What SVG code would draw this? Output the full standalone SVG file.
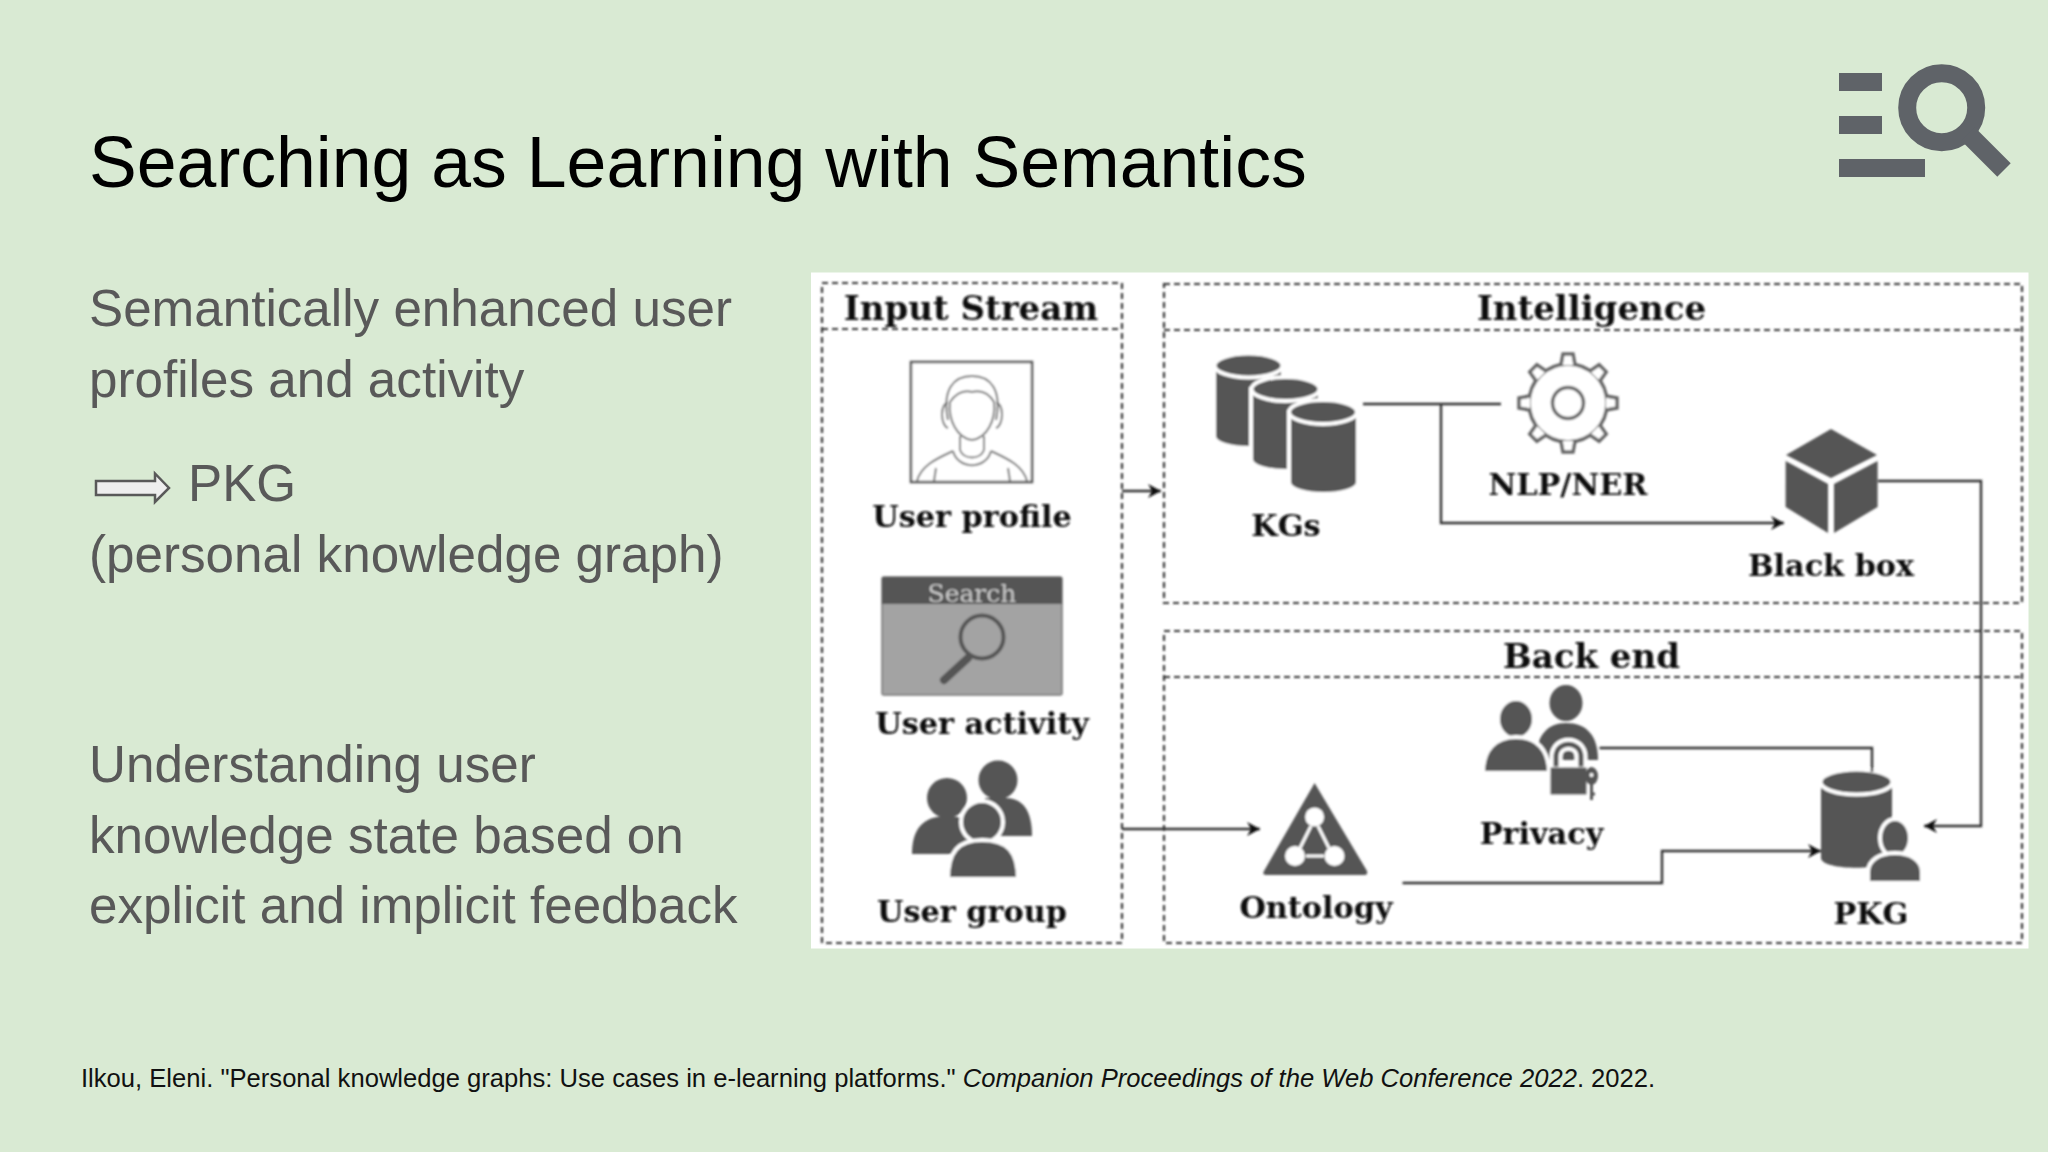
<svg xmlns="http://www.w3.org/2000/svg" width="2048" height="1152" viewBox="0 0 2048 1152">
<style>
.sans{font-family:"Liberation Sans",Arial,sans-serif}
.body{font-size:51.200px;fill:#595959}
.lbl{font-family:"DejaVu Serif",serif;font-weight:700;font-size:30.300px;fill:#111;text-anchor:middle}
.hd{font-size:34px}
.box{fill:none;stroke:#333;stroke-width:2.200;stroke-dasharray:6 4}
.ic{fill:#555}
.hal{stroke:#fff;stroke-width:4}
.cn{fill:none;stroke:#333;stroke-width:2.400}
.pf{fill:none;stroke:#777;stroke-width:2}
</style>
<defs>
<filter id="soft" x="-2%" y="-2%" width="104%" height="104%"><feGaussianBlur stdDeviation="0.8"/></filter>
<marker id="ah" markerUnits="userSpaceOnUse" markerWidth="16" markerHeight="16" refX="14" refY="8" orient="auto"><path d="M1,1 L14,8 L1,15 L5,8Z" fill="#111"/></marker>
<path id="tooth" d="M-7,-38 L-5,-49 L5,-49 L7,-38" fill="#fff" stroke="#666" stroke-width="3.500"/>
</defs>
<rect width="2048" height="1152" fill="#d9ead3"/>
<g id="logo" fill="#5f6368">
<rect x="1839" y="73" width="43" height="18"/>
<rect x="1839" y="116" width="43" height="18"/>
<rect x="1839" y="159" width="86" height="18"/>
<circle cx="1941.700" cy="107.700" r="34.500" fill="none" stroke="#5f6368" stroke-width="18"/>
<path d="M1968,134 L2004,170" stroke="#5f6368" stroke-width="19" fill="none"/>
</g>
<text id="title" class="sans" x="89" y="187" font-size="71.600" fill="#000">Searching as Learning with Semantics</text>
<g id="bullets" class="sans body">
<text x="89" y="326">Semantically enhanced user</text>
<text x="89" y="397">profiles and activity</text>
<text x="188" y="501">PKG</text>
<text x="89" y="572">(personal knowledge graph)</text>
<text x="89" y="782">Understanding user</text>
<text x="89" y="853">knowledge state based on</text>
<text x="89" y="923">explicit and implicit feedback</text>
</g>
<path id="text-arrow" d="M96,481 H155 V473.500 L169,488 L155,502 V495 H96Z" fill="#eeeeee" stroke="#595959" stroke-width="2.500"/>
<text id="citation" class="sans" x="81" y="1087" font-size="25.600" fill="#111">Ilkou, Eleni. "Personal knowledge graphs: Use cases in e-learning platforms." <tspan font-style="italic">Companion Proceedings of the Web Conference 2022</tspan>. 2022.</text>

<rect x="811" y="272.500" width="1217.500" height="676" fill="#fff"/>
<g filter="url(#soft)">
<g id="input-stream">
<rect class="box" x="822" y="283" width="300" height="660"/>
<path class="box" d="M822,329 H1122"/>
<text class="lbl hd" x="971" y="320">Input Stream</text>
</g>
<g id="intelligence">
<rect class="box" x="1164" y="284" width="858" height="319"/>
<path class="box" d="M1164,330 H2022"/>
<text class="lbl hd" x="1591.500" y="320">Intelligence</text>
</g>
<g id="back-end">
<rect class="box" x="1164" y="631" width="858" height="312"/>
<path class="box" d="M1164,677 H2022"/>
<text class="lbl hd" x="1591.500" y="668">Back end</text>
</g>
<g id="user-profile">
<rect x="911" y="362" width="121" height="120" fill="#fff" stroke="#555" stroke-width="2.500"/>
<path class="pf" d="M948,420 C942,390 953,376 972,376 C991,376 1002,390 996,420"/>
<path class="pf" d="M950,402 C957,392 965,390 972,392 C980,390 988,392 994,402 C996,420 987,438 972,440 C957,438 948,420 950,402Z"/>
<path class="pf" d="M948,403 C940,403 940,425 948,428 M996,403 C1004,403 1004,425 996,428"/>
<path class="pf" d="M960,436 V450 M984,436 V450 M953,451 C958,470 986,470 991,451 M960,450 C964,460 980,460 984,450"/>
<path class="pf" d="M917,481 C921,465 938,458 953,451 M1027,481 C1023,465 1006,458 991,451 M934,481 L936,468 M1010,481 L1008,468"/>
<text class="lbl" x="972" y="527">User profile</text>
</g>
<g id="user-activity">
<rect x="882" y="577" width="180" height="118" rx="2" fill="#a3a3a3" stroke="#777" stroke-width="1.500"/>
<path d="M882,604 V579 Q882,577 884,577 H1060 Q1062,577 1062,579 V604Z" fill="#555"/>
<text x="972" y="602" font-family="DejaVu Serif,serif" font-size="25" fill="#c9c9c9" text-anchor="middle">Search</text>
<circle cx="982" cy="637" r="21.500" fill="none" stroke="#555" stroke-width="4"/>
<path d="M968,658 L944,680" stroke="#555" stroke-width="8" stroke-linecap="round"/>
<text class="lbl" x="982" y="734">User activity</text>
</g>
<g id="user-group">
<circle class="ic" cx="998" cy="780" r="19.500"/>
<path class="ic" d="M980,836 H1032 C1032,812 1024,798 1005,798 H985Z"/>
<circle class="ic" cx="947" cy="798" r="20"/>
<path class="ic" d="M912,854 C912,830 922,816 947,816 C972,816 982,830 982,854Z"/>
<circle class="ic hal" cx="982" cy="822" r="21"/>
<path class="ic hal" d="M948,879 C948,852 958,840 982,840 C1008,840 1018,852 1018,879Z"/>
<text class="lbl" x="972" y="922">User group</text>
</g>
<g id="kgs">
<path class="ic hal" d="M1214,365 V436 C1214,452 1283,452 1283,436 V365Z"/>
<ellipse class="ic hal" cx="1248.500" cy="365.500" rx="34" ry="12"/>
<path class="ic hal" d="M1251,389 V459 C1251,475 1320,475 1320,459 V389Z"/>
<ellipse class="ic hal" cx="1285.500" cy="389" rx="34" ry="12"/>
<path class="ic hal" d="M1289,412 V482 C1289,498 1358,498 1358,482 V412Z"/>
<ellipse class="ic hal" cx="1323" cy="412" rx="34" ry="12"/>
<text class="lbl" x="1286" y="536">KGs</text>
</g>
<g id="nlp-ner">
<circle cx="1568" cy="403" r="39" fill="#fff" stroke="#666" stroke-width="3.500"/>
<use href="#tooth" transform="translate(1568,403)"/>
<use href="#tooth" transform="translate(1568,403) rotate(45)"/>
<use href="#tooth" transform="translate(1568,403) rotate(90)"/>
<use href="#tooth" transform="translate(1568,403) rotate(135)"/>
<use href="#tooth" transform="translate(1568,403) rotate(180)"/>
<use href="#tooth" transform="translate(1568,403) rotate(225)"/>
<use href="#tooth" transform="translate(1568,403) rotate(270)"/>
<use href="#tooth" transform="translate(1568,403) rotate(315)"/>
<circle cx="1568" cy="403" r="15.500" fill="#fff" stroke="#666" stroke-width="3.500"/>
<text class="lbl" x="1568" y="495">NLP/NER</text>
</g>
<g id="black-box">
<path class="ic" d="M1831,429 L1877,455 L1831,478 L1786,455Z"/>
<path class="ic" d="M1785.600,461 L1828,484 V533 L1785.600,507Z"/>
<path class="ic" d="M1877.600,461 L1834,484 V533 L1877.600,507Z"/>
<text class="lbl" x="1831" y="576">Black box</text>
</g>
<g id="ontology">
<path class="ic" d="M1314.600,783 L1367,871 Q1368,875 1364,875 H1266 Q1262,875 1264,871Z"/>
<path d="M1311,826 L1300,848 M1318,826 L1329,848 M1306,856 H1324" stroke="#fff" stroke-width="3"/>
<circle cx="1314.600" cy="817" r="9.500" fill="#fff"/>
<circle cx="1295" cy="856" r="10" fill="#fff"/>
<circle cx="1334.500" cy="856" r="10" fill="#fff"/>
<text class="lbl" x="1316" y="918">Ontology</text>
</g>
<g id="privacy">
<ellipse class="ic" cx="1566" cy="703" rx="16.500" ry="18"/>
<path class="ic" d="M1536,760 C1536,735 1548,723 1566,723 C1586,723 1598,735 1598,760Z"/>
<ellipse class="ic hal" cx="1516" cy="719" rx="18" ry="20"/>
<path class="ic hal" d="M1483,773 C1483,750 1495,737 1516,737 C1537,737 1549,750 1549,773Z"/>
<path d="M1556,768 V757 C1556,740 1581,740 1581,757 V768" fill="none" stroke="#fff" stroke-width="13"/>
<path d="M1556,768 V757 C1556,740 1581,740 1581,757 V768" fill="none" stroke="#555" stroke-width="5"/>
<rect class="ic" x="1550" y="767" width="37" height="28" stroke="#fff" stroke-width="1"/>
<ellipse class="ic" cx="1591.500" cy="776" rx="6.500" ry="9"/>
<circle cx="1591.500" cy="775" r="2" fill="#fff"/>
<path d="M1591.500,784 V800 M1591.500,794 H1595" stroke="#555" stroke-width="3"/>
<text class="lbl" x="1541.500" y="844">Privacy</text>
</g>
<g id="pkg">
<path class="ic" d="M1821,782 V858 C1821,871 1892,871 1892,858 V782Z"/>
<ellipse class="ic hal" cx="1856.500" cy="782" rx="36" ry="12.500"/>
<ellipse class="ic hal" cx="1895" cy="838" rx="15" ry="19"/>
<path class="ic hal" d="M1868,883 V872 C1868,860 1880,853 1895,853 C1910,853 1922,860 1922,872 V883Z"/>
<text class="lbl" x="1871" y="924">PKG</text>
</g>
<g id="connectors">
<path class="cn" marker-end="url(#ah)" d="M1122,491 H1161"/>
<path class="cn" marker-end="url(#ah)" d="M1122,829 H1260"/>
<path class="cn" d="M1363,404 H1501"/>
<path class="cn" marker-end="url(#ah)" d="M1441,404 V523 H1784"/>
<path class="cn" marker-end="url(#ah)" d="M1878,481 H1981 V826 H1924"/>
<path class="cn" d="M1599.500,748 H1872 V772"/>
<path class="cn" marker-end="url(#ah)" d="M1402.500,883 H1662 V851 H1821"/>
</g>
</g>
</svg>
